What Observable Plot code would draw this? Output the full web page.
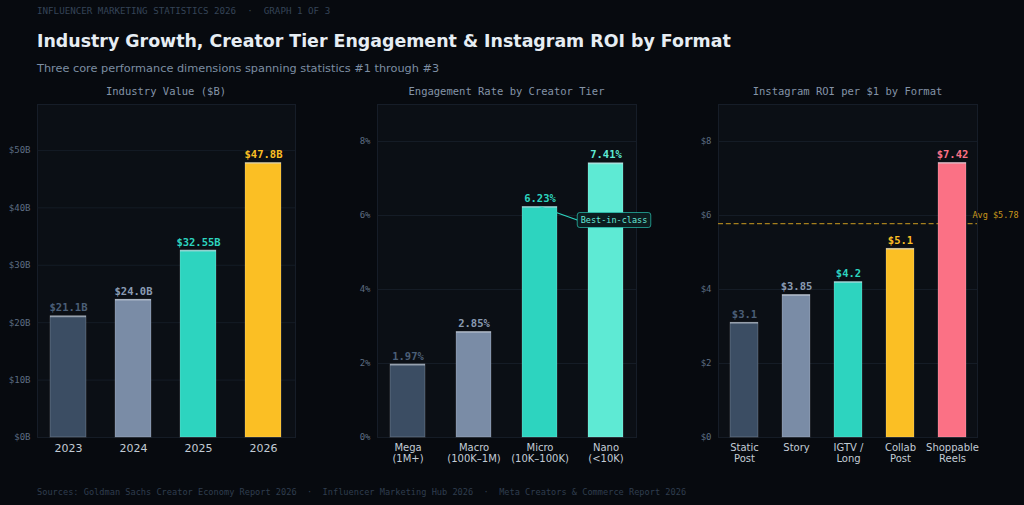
<!DOCTYPE html>
<html>
<head>
<meta charset="utf-8">
<script src="https://cdn.jsdelivr.net/npm/d3@7"></script>
<script src="https://cdn.jsdelivr.net/npm/@observablehq/plot@0.6"></script>
<style>
  html, body { margin: 0; padding: 0; background: #070a0f; }
  #root { position: relative; width: 1024px; height: 505px; overflow: hidden; background: #070a0f; }
  .abs { position: absolute; white-space: nowrap; }
  .kicker { left: 37px; top: 4px; font: 9.2px/14px "DejaVu Sans Mono", monospace; color: #354457; }
  .title { left: 37px; top: 28px; font: bold 17.4px/26px "DejaVu Sans", sans-serif; color: #e6edf3; }
  .subtitle { left: 37px; top: 61px; font: 11.3px/16px "DejaVu Sans", sans-serif; color: #7d8ea3; }
  .ptitle { top: 84px; font: 10.5px/14px "DejaVu Sans Mono", monospace; color: #8494a8; text-align: center; }
  .footer { left: 37px; top: 486px; font: 8.65px/12px "DejaVu Sans Mono", monospace; color: #2f3d4e; }
  .panel { position: absolute; top: 80px; }
</style>
</head>
<body>
<div id="root">
  <div class="abs kicker">INFLUENCER MARKETING STATISTICS 2026 &nbsp;·&nbsp; GRAPH 1 OF 3</div>
  <div class="abs title">Industry Growth, Creator Tier Engagement &amp; Instagram ROI by Format</div>
  <div class="abs subtitle">Three core performance dimensions spanning statistics #1 through #3</div>
  <div class="abs ptitle" style="left:37px;width:258px;">Industry Value ($B)</div>
  <div class="abs ptitle" style="left:377px;width:259px;">Engagement Rate by Creator Tier</div>
  <div class="abs ptitle" style="left:718px;width:259px;">Instagram ROI per $1 by Format</div>
  <div class="abs footer">Sources: Goldman Sachs Creator Economy Report 2026 &nbsp;·&nbsp; Influencer Marketing Hub 2026 &nbsp;·&nbsp; Meta Creators &amp; Commerce Report 2026</div>
  <div class="panel" id="p1" style="left:0px;"></div>
  <div class="panel" id="p2" style="left:340px;"></div>
  <div class="panel" id="p3" style="left:680px;"></div>
</div>
<script>
// ---------- DATA ----------
const years = ["2023", "2024", "2025", "2026"];
const industryValue = [21.1, 24.0, 32.55, 47.8];
const industryLabels = ["$21.1B", "$24.0B", "$32.55B", "$47.8B"];
const industryTicks = [0, 10, 20, 30, 40, 50];

const tiers = ["Mega", "Macro", "Micro", "Nano"];
const tierTickLabels = ["Mega\n(1M+)", "Macro\n(100K–1M)", "Micro\n(10K–100K)", "Nano\n(<10K)"];
const engagementRate = [1.97, 2.85, 6.23, 7.41];
const engagementLabels = ["1.97%", "2.85%", "6.23%", "7.41%"];
const engagementTicks = [0, 2, 4, 6, 8];
const annotationText = "Best-in-class";
const annotationTier = "Micro";
const annotationValue = 6.23;
const annotationLabelY = 5.87;

const formats = ["Static Post", "Story", "IGTV / Long", "Collab Post", "Shoppable Reels"];
const formatTickLabels = ["Static\nPost", "Story", "IGTV /\nLong", "Collab\nPost", "Shoppable\nReels"];
const roiValue = [3.1, 3.85, 4.2, 5.1, 7.42];
const roiLabels = ["$3.1", "$3.85", "$4.2", "$5.1", "$7.42"];
const roiTicks = [0, 2, 4, 6, 8];
const roiAverage = 5.78;
const roiAverageLabel = "Avg $5.78";

// ---------- STYLE ----------
const SLATE = "#3b4d63", STEEL = "#7a8ca6", TEAL = "#2dd4bf", GOLD = "#fbbf24", MINT = "#5eead4", ROSE = "#fb7185";
const LBL_SLATE = "#4b5f78", LBL_STEEL = "#8a9bb2";
const panelBg = "#0b0f15", frameStroke = "#161d28", gridStroke = "#151c26";
const tickColor = "#5d6d82", xTickColor = "#c3ccd6";

function panel({el, width, marginLeft, marginRight, cats, tickLabels, values, labels, fills, labelFills,
                yDomain, yTicks, yFmt, xFontSize, padIn, padOut, extra = []}) {
  const rows = cats.map((c, i) => ({cat: c, value: values[i], label: labels[i], fill: fills[i], lfill: labelFills[i]}));
  const tickMap = new Map(cats.map((c, i) => [c, tickLabels[i]]));
  const plot = Plot.plot({
    width, height: 400,
    marginTop: 24, marginBottom: 43, marginLeft, marginRight,
    style: {background: "transparent", fontFamily: "'DejaVu Sans Mono', monospace", overflow: "visible"},
    x: {domain: cats, paddingInner: padIn, paddingOuter: padOut, axis: null, label: null},
    y: {domain: yDomain, axis: null, label: null},
    marks: [
      Plot.frame({fill: panelBg, stroke: frameStroke, strokeWidth: 1}),
      Plot.gridY(yTicks, {stroke: gridStroke, strokeOpacity: 1, strokeWidth: 1}),
      ...extra.filter(m => m.under).map(m => m.mark),
      Plot.barY(rows, {x: "cat", y: "value", fill: "fill", stroke: "#ffffff", strokeOpacity: 0.18, strokeWidth: 1}),
      Plot.tickY(rows, {x: "cat", y: "value", stroke: "#d5dde6", strokeOpacity: 0.55, strokeWidth: 1.6}),
      Plot.text(rows, {x: "cat", y: "value", text: "label", fill: "lfill", lineAnchor: "bottom", dy: -5,
                        fontSize: 10.5, fontWeight: "bold", fontFamily: "'DejaVu Sans Mono', monospace"}),
      ...extra.filter(m => !m.under).map(m => m.mark),
      Plot.axisY(yTicks, {tickSize: 0, tickPadding: 7, tickFormat: yFmt, fill: tickColor, fontSize: 9, label: null,
                          fontFamily: "'DejaVu Sans Mono', monospace"}),
      Plot.axisX({tickSize: 0, tickPadding: 6, tickFormat: d => tickMap.get(d), fill: xTickColor, label: null,
                  fontSize: xFontSize, lineHeight: 1.1, fontFamily: "'DejaVu Sans', sans-serif"})
    ]
  });
  document.getElementById(el).appendChild(plot);
  return plot;
}

panel({
  el: "p1", width: 340, marginLeft: 37, marginRight: 45,
  cats: years, tickLabels: years, values: industryValue, labels: industryLabels,
  fills: [SLATE, STEEL, TEAL, GOLD], labelFills: [LBL_SLATE, LBL_STEEL, TEAL, GOLD],
  yDomain: [0, 58], yTicks: industryTicks, yFmt: d => `$${d}B`, xFontSize: 11, padIn: 0.44, padOut: 0.175
});

const p2 = panel({
  el: "p2", width: 320, marginLeft: 37, marginRight: 24,
  cats: tiers, tickLabels: tierTickLabels, values: engagementRate, labels: engagementLabels,
  fills: [SLATE, STEEL, TEAL, MINT], labelFills: [LBL_SLATE, LBL_STEEL, TEAL, MINT],
  yDomain: [0, 9], yTicks: engagementTicks, yFmt: d => `${d}%`, xFontSize: 10, padIn: 0.475, padOut: 0.18,
  extra: [
    {under: false, mark: Plot.text([annotationText], {x: () => annotationTier, y: () => annotationLabelY,
      text: d => d, dx: 74, fill: "#67e8d6", fontSize: 8.5, fontFamily: "'DejaVu Sans Mono', monospace"})}
  ]
});

panel({
  el: "p3", width: 344, marginLeft: 38, marginRight: 47,
  cats: formats, tickLabels: formatTickLabels, values: roiValue, labels: roiLabels,
  fills: [SLATE, STEEL, TEAL, GOLD, ROSE], labelFills: [LBL_SLATE, LBL_STEEL, TEAL, GOLD, ROSE],
  yDomain: [0, 9], yTicks: roiTicks, yFmt: d => `$${d}`, xFontSize: 10, padIn: 0.47, padOut: 0.225,
  extra: [
    {under: true, mark: Plot.ruleY([roiAverage], {stroke: "#d9a520", strokeOpacity: 0.75, strokeWidth: 1.2, strokeDasharray: "5,2.8"})},
    {under: false, mark: Plot.text([roiAverageLabel], {y: () => roiAverage, text: d => d, frameAnchor: "right",
      textAnchor: "start", dx: -5, dy: -8, fill: "#c9971c", fontSize: 8.5, fontFamily: "'DejaVu Sans Mono', monospace"})}
  ]
});

// annotation box + connector for panel 2 (positions taken from the rendered text and the plot's scales)
(function () {
  const svgNode = p2;
  const texts = Array.from(svgNode.querySelectorAll("text")).filter(n => n.textContent === annotationText);
  const node = texts[0];
  if (!node) return;
  const sr = svgNode.getBoundingClientRect();
  const tr = node.getBoundingClientRect();
  let top = node;
  while (top.parentNode && top.parentNode !== svgNode) top = top.parentNode;
  const x = p2.scale("x"), y = p2.scale("y");
  const x0 = x.apply(annotationTier) + x.bandwidth / 2, y0 = y.apply(annotationValue);
  const padX = 3.5, padY = 2.5;
  const bx = tr.left - sr.left - padX, by = tr.top - sr.top - padY;
  const bw = tr.width + 2 * padX, bh = tr.height + 2 * padY;
  const ann = d3.select(svgNode).insert("g", () => top);
  ann.append("line").attr("x1", x0).attr("y1", y0).attr("x2", bx).attr("y2", by + bh / 2)
     .attr("stroke", TEAL).attr("stroke-width", 1.2);
  ann.append("rect").attr("x", bx).attr("y", by).attr("width", bw).attr("height", bh).attr("rx", 2.5)
     .attr("fill", "#0c1d20").attr("stroke", TEAL).attr("stroke-opacity", 0.65).attr("stroke-width", 1);
})();
</script>
</body>
</html>
